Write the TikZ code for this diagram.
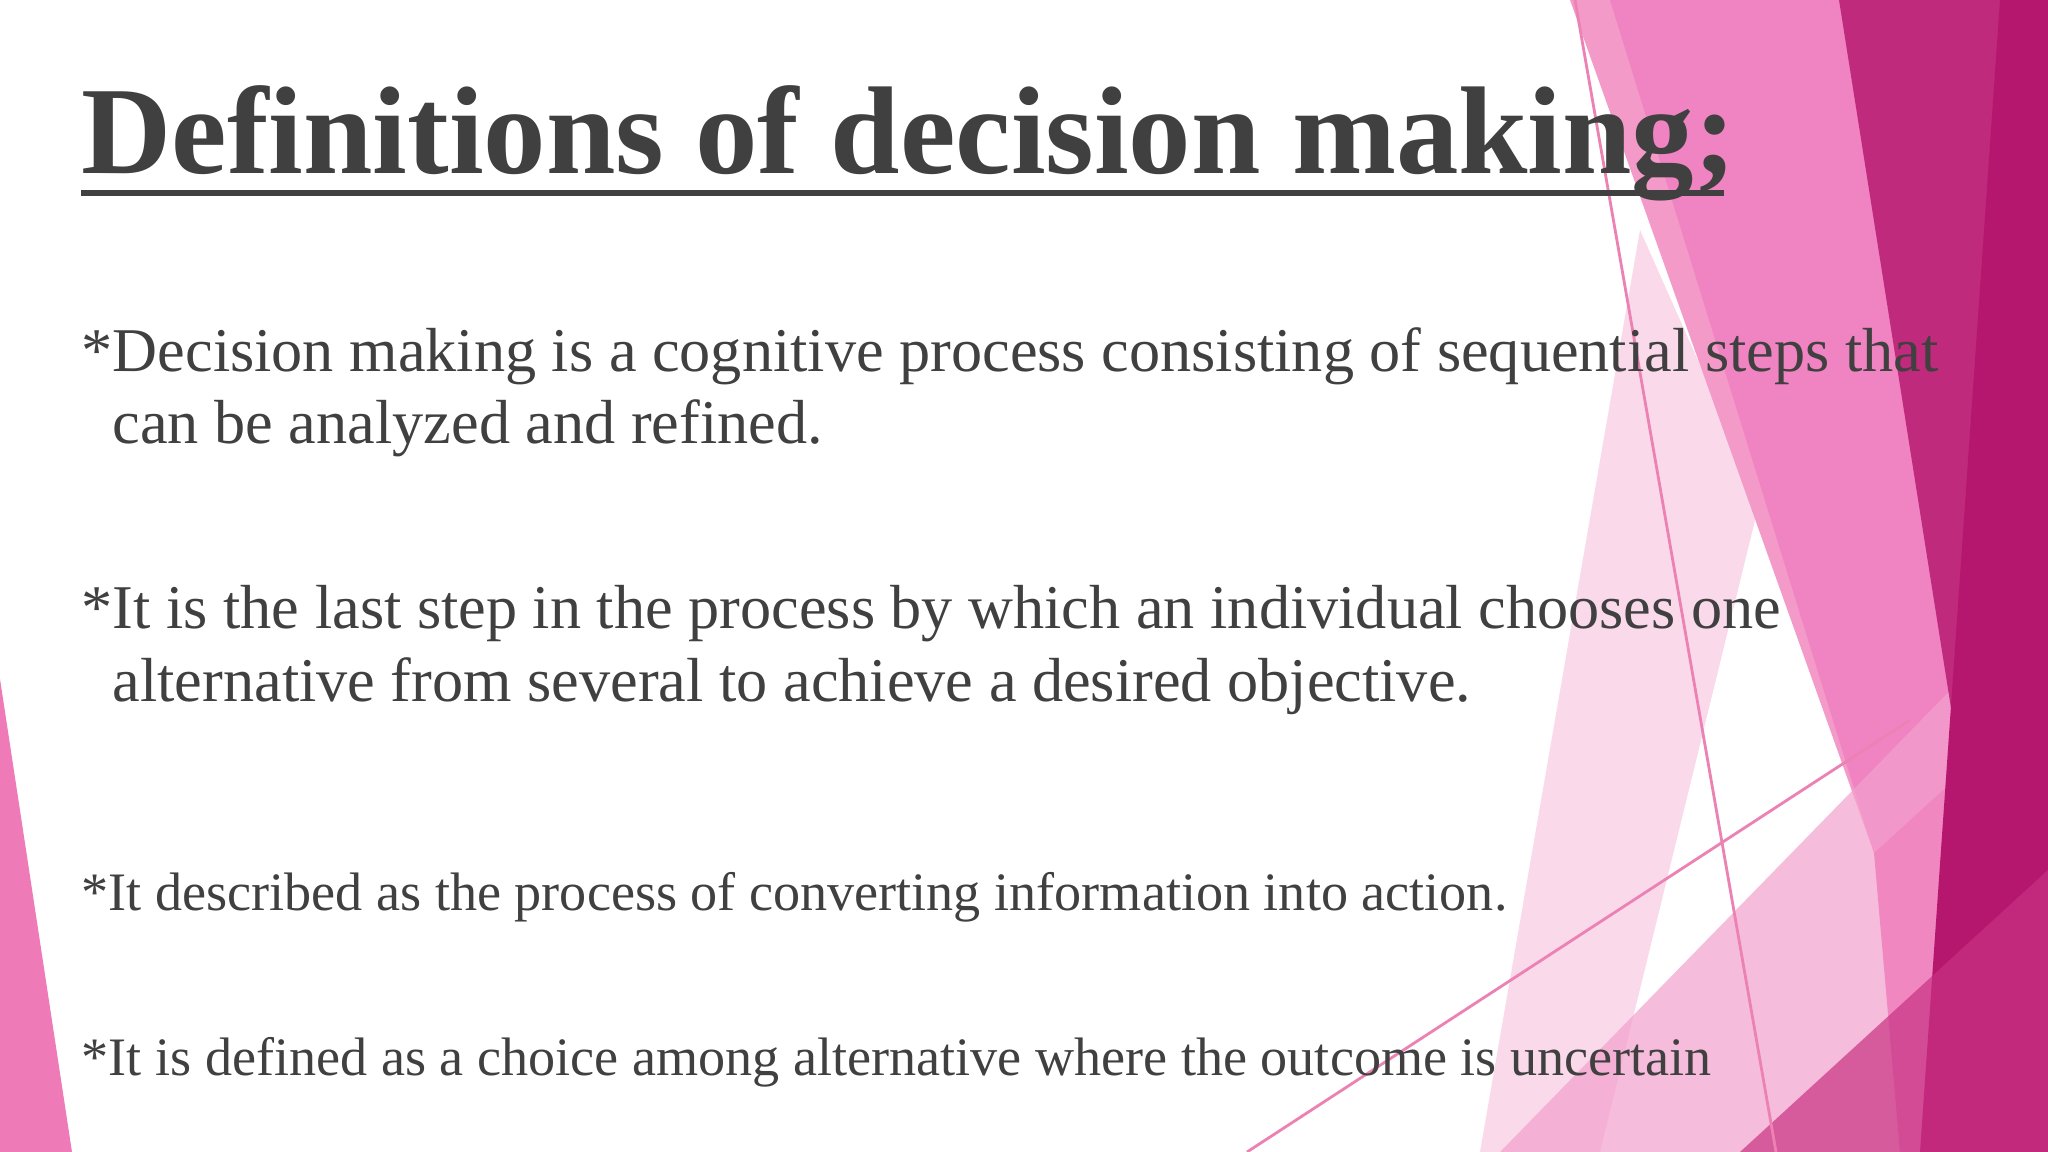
\documentclass[tikz,border=0pt]{standalone}
\usepackage{fontspec}
\setmainfont{Liberation Serif}
\definecolor{txt}{HTML}{404040}
\definecolor{pA}{RGB}{243,154,201}
\definecolor{pB}{RGB}{240,126,191}
\definecolor{pC}{RGB}{234,79,162}
\definecolor{pD}{RGB}{243,160,205}
\definecolor{pE}{RGB}{191,42,125}
\definecolor{pF}{RGB}{181,23,110}
\definecolor{pG}{RGB}{200,50,130}
\definecolor{pH}{RGB}{238,123,184}
\definecolor{pL}{RGB}{236,130,180}
\definecolor{pW}{RGB}{250,218,234}
\begin{document}
\begin{tikzpicture}[x=0.01cm,y=-0.01cm,
  body/.style={anchor=base west,inner sep=0,text=txt,font=\fontsize{17.7}{21}\selectfont},
  small/.style={anchor=base west,inner sep=0,text=txt,font=\fontsize{15.4}{19}\selectfont}]
\useasboundingbox (0,0) rectangle (2048,1152);
\fill[white] (0,0) rectangle (2048,1152);
% background shapes
\fill[pW] (1640,230) -- (1760,500) -- (1600,1152) -- (1480,1152) -- cycle;
\fill[pA] (1570,0) -- (1840,0) -- (1965,770) -- (1874,853) -- cycle;
\fill[pB, opacity=0.8] (1610,0) -- (1840,0) -- (1965,770) -- (1874,853) -- cycle;
\fill[pC] (1874,853) -- (1965,770) -- (1990,1152) -- (1900,1152) -- cycle;
\fill[pD, opacity=0.7] (1500,1152) -- (2048,590) -- (2048,1152) -- cycle;
\fill[pE] (1839,0) -- (2048,0) -- (2048,1152) -- (1990,1152) -- (1960,765) -- cycle;
\fill[pF] (2000,0) -- (2048,0) -- (2048,1152) -- (1920,1152) -- cycle;
\fill[pG,opacity=0.7] (1740,1152) -- (2048,870) -- (2048,1152) -- cycle;
\fill[pH] (0,679) -- (72,1152) -- (0,1152) -- cycle;
\draw[pL, line width=0.8pt] (1575,0) -- (1776,1152);
\draw[pL, line width=0.8pt] (1247,1152) -- (1910,720);
% text
\node[anchor=base west,inner sep=0,text=txt,font=\fontsize{35.5}{40}\selectfont\bfseries] (t) at (81,174) {Definitions of decision making;};
\fill[txt] (81,190) rectangle (1724,196);
\node[body] (a1) at (81,372) {*Decision making is a cognitive process consisting of sequential steps that};
\node[body] (a2) at (112,444) {can be analyzed and refined.};
\node[body] (b1) at (81,629) {*It is the last step in the process by which an individual chooses one};
\node[body] (b2) at (112,701) {alternative from several to achieve a desired objective.};
\node[small] (c) at (81,910) {*It described as the process of converting information into action.};
\node[small] (d) at (81,1075) {*It is defined as a choice among alternative where the outcome is uncertain};
\end{tikzpicture}
\end{document}
